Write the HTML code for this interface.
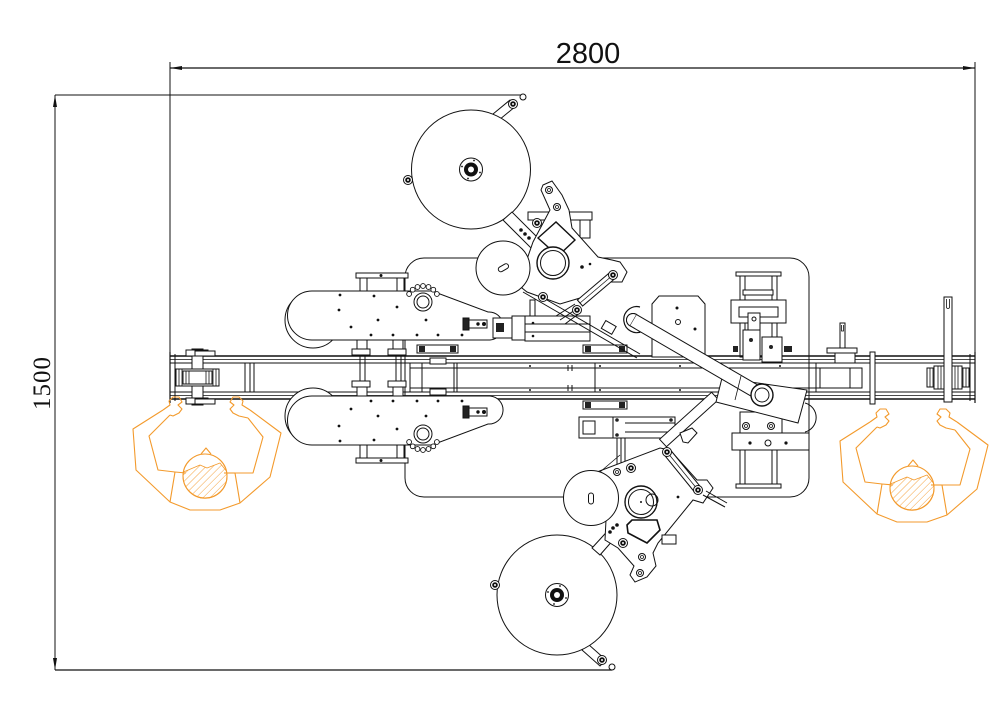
<!DOCTYPE html>
<html><head><meta charset="utf-8"><style>
html,body{margin:0;padding:0;background:#fff;}
svg{display:block;}
</style></head><body>
<svg width="1000" height="714" viewBox="0 0 1000 714" xmlns="http://www.w3.org/2000/svg">
<defs>
<pattern id="hatch" patternUnits="userSpaceOnUse" width="5" height="5" patternTransform="rotate(45)">
<line x1="0" y1="0" x2="0" y2="5" stroke="#f39a2c" stroke-width="0.9"/>
</pattern>
<g id="brg"><circle r="4.5" fill="#fff" stroke="#111" stroke-width="1"/><circle r="2.8" fill="#111"/><circle r="1" fill="#fff"/></g>
<g id="ob"><circle r="3.5" fill="#fff" stroke="#111" stroke-width="1"/><circle r="1.5" fill="none" stroke="#111" stroke-width="0.8"/></g>
<g id="hub"><circle r="11.5" fill="#fff" stroke="#111" stroke-width="1"/><circle r="7" fill="#111"/><circle r="3" fill="#fff"/><circle cx="-9" cy="-3" r="0.9" fill="#111"/><circle cx="9" cy="3" r="0.9" fill="#111"/><circle cx="3" cy="-9" r="0.9" fill="#111"/><circle cx="-3" cy="9" r="0.9" fill="#111"/></g>

<g id="conv" stroke="#111" stroke-width="1">
 <circle cx="313" cy="320" r="28" fill="#fff"/>
 <path d="M312 291 L432 291 L488 312 A14 14 0 0 1 490 340 L312 340 A24.5 24.5 0 0 1 312 291 Z" fill="#fff"/>
 <g fill="#fff" stroke-width="0.9">
  <circle cx="409.1" cy="294" r="2.4"/><circle cx="412.7" cy="289.7" r="2.4"/><circle cx="417.5" cy="287" r="2.4"/>
  <circle cx="423" cy="286" r="2.4"/><circle cx="428.5" cy="287" r="2.4"/><circle cx="433.3" cy="289.7" r="2.4"/>
  <circle cx="436.9" cy="294" r="2.4"/>
 </g>
 <circle cx="423" cy="302" r="9" fill="#fff"/>
 <circle cx="423" cy="302" r="6" fill="none"/>
 <rect x="463" y="318" width="6" height="12" fill="#222"/>
 <rect x="469" y="320" width="18" height="8" fill="#fff"/>
 <circle cx="478" cy="324" r="1.2" fill="#111"/><circle cx="484" cy="324" r="1.5" fill="#111"/>
 <g fill="#111" stroke="none">
  <circle cx="340" cy="295" r="1.4"/><circle cx="374" cy="296" r="1.4"/><circle cx="339" cy="310" r="1.4"/>
  <circle cx="397" cy="307" r="1.4"/><circle cx="378" cy="320" r="1.4"/><circle cx="426" cy="320" r="1.4"/>
  <circle cx="351" cy="327" r="1.4"/><circle cx="371" cy="335" r="1.4"/><circle cx="393" cy="335" r="1.4"/>
  <circle cx="417" cy="335" r="1.4"/><circle cx="438" cy="335" r="1.4"/><circle cx="462" cy="335" r="1.4"/>
 </g>
 <rect x="356" y="273" width="52" height="5" fill="#fff"/>
 <rect x="360" y="278" width="44" height="13" fill="#fff"/>
 <line x1="367" y1="278" x2="367" y2="291"/><line x1="397" y1="278" x2="397" y2="291"/>
 <circle cx="381" cy="275.5" r="1" fill="#111"/>
 <rect x="357" y="340" width="10" height="9" fill="#fff"/>
 <rect x="393" y="340" width="10" height="9" fill="#fff"/>
 <rect x="352" y="349" width="18" height="6" fill="#fff"/>
 <rect x="388" y="349" width="18" height="6" fill="#fff"/>
</g>

<g id="person" fill="none" stroke="#f39a2c" stroke-width="1.1" stroke-linejoin="round">
 <polyline points="43,70 13,89 16,130 50,162 70,170 100,170 120,163 150,137 161,93 130,70"/>
 <polyline points="43,70 50,65 49,61 53,57 59,57 62,62 58,65 62,69 59,73 53,76 50,75"/>
 <polyline points="130,70 122,65 123,61 119,57 113,57 110,62 114,65 110,69 113,73 119,76 128,78"/>
 <polyline points="50,75 29,96 38,130 55,132"/>
 <polyline points="128,78 143,97 133,133 115,133"/>
 <line x1="55" y1="132" x2="50" y2="162"/>
 <line x1="115" y1="133" x2="120" y2="163"/>
 <line x1="55" y1="132" x2="66" y2="133"/>
 <line x1="104" y1="133" x2="115" y2="133"/>
 <circle cx="85" cy="136" r="22"/>
 <polyline points="81,114 86,108 91,114"/>
 <path d="M63.5,132 L80,125 L87,128 L100,123 L106.4,131 A22 22 0 1 1 63.5,132 Z" fill="url(#hatch)" stroke-width="0.8"/>
</g>
</defs>

<rect x="0" y="0" width="1000" height="714" fill="#fff"/>

<!-- Dimensions -->
<g stroke="#111" stroke-width="1" fill="none">
 <line x1="170" y1="68" x2="975" y2="68" stroke-width="1.2"/>
 <line x1="170" y1="62" x2="170" y2="356"/>
 <line x1="975" y1="62" x2="975" y2="356"/>
 <line x1="55" y1="95" x2="55" y2="670"/>
 <line x1="55" y1="95" x2="525" y2="95"/>
 <line x1="55" y1="670" x2="612" y2="670" stroke-width="1.2"/>
</g>
<polygon points="170,68 182,66 182,70" fill="#111"/>
<polygon points="975,68 963,66 963,70" fill="#111"/>
<polygon points="55,95 53,107 57,107" fill="#111"/>
<polygon points="55,670 53,658 57,658" fill="#111"/>
<text x="588" y="63" font-family="Liberation Sans, sans-serif" font-size="29" text-anchor="middle" fill="#111">2800</text>
<text transform="translate(50,383) rotate(-90)" font-family="Liberation Serif, serif" font-size="25" text-anchor="middle" letter-spacing="1" fill="#111">1500</text>

<!-- Big panel -->
<rect x="405" y="258" width="404" height="239" rx="19" fill="#fff" stroke="#111" stroke-width="1"/>

<!-- Frame -->
<g stroke="#111" fill="none">
 <line x1="170" y1="356" x2="975" y2="356" stroke-width="1.6"/>
 <line x1="170" y1="359.5" x2="975" y2="359.5" stroke-width="0.7"/>
 <line x1="170" y1="363" x2="975" y2="363" stroke-width="1"/>
 <line x1="170" y1="392" x2="975" y2="392" stroke-width="1"/>
 <line x1="170" y1="395.5" x2="975" y2="395.5" stroke-width="0.7"/>
 <line x1="170" y1="399" x2="975" y2="399" stroke-width="1.6"/>
 <line x1="410" y1="368" x2="862" y2="368" stroke-width="1"/>
 <line x1="410" y1="388" x2="862" y2="388" stroke-width="1"/>
 <line x1="170" y1="352" x2="170" y2="403" stroke-width="1.2"/>
 <line x1="175" y1="354" x2="175" y2="401"/>
 <line x1="970" y1="354" x2="970" y2="401"/>
 <line x1="975" y1="352" x2="975" y2="403" stroke-width="1.2"/>
 <line x1="245" y1="363" x2="245" y2="392"/><line x1="250" y1="363" x2="250" y2="392"/><line x1="254" y1="363" x2="254" y2="392"/>
 <line x1="360" y1="356" x2="360" y2="399"/><line x1="365" y1="356" x2="365" y2="399"/>
 <line x1="396" y1="356" x2="396" y2="399"/><line x1="401" y1="356" x2="401" y2="399"/>
 <line x1="410" y1="363" x2="410" y2="392"/><line x1="422" y1="363" x2="422" y2="392"/>
 <line x1="454" y1="363" x2="454" y2="392"/><line x1="457" y1="363" x2="457" y2="392"/>
 <rect x="430" y="358" width="16" height="6" fill="#fff"/>
 <rect x="430" y="389" width="16" height="6" fill="#fff"/>
 <line x1="568" y1="365" x2="568" y2="371"/><line x1="572" y1="365" x2="572" y2="371"/>
 <line x1="568" y1="385" x2="568" y2="391"/><line x1="572" y1="385" x2="572" y2="391"/>
 <line x1="595" y1="363" x2="595" y2="392"/>
 <line x1="816" y1="363" x2="816" y2="392"/>
 <rect x="820" y="368" width="42" height="20" fill="#fff"/>
 <line x1="850" y1="368" x2="850" y2="388"/>
 <rect x="870" y="352" width="5" height="52" fill="#fff"/>
</g>
<g fill="#111">
 <circle cx="530" cy="366" r="1"/><circle cx="530" cy="390" r="1"/>
 <circle cx="600" cy="366" r="1"/><circle cx="600" cy="390" r="1"/>
 <circle cx="680" cy="366" r="1"/><circle cx="680" cy="390" r="1"/>
 <circle cx="780" cy="366" r="1"/><circle cx="780" cy="390" r="1"/>
</g>
<!-- left end gear/shaft -->
<g stroke="#111" stroke-width="1" fill="#fff">
 <rect x="192" y="349" width="11" height="56"/>
 <rect x="186" y="350" width="22" height="6"/>
 <rect x="186" y="398" width="22" height="6"/>
 <rect x="176" y="369" width="43" height="17"/>
 <rect x="183" y="371" width="29" height="13"/>
</g>
<g stroke="#111" stroke-width="0.8">
 <line x1="179" y1="369" x2="179" y2="386"/><line x1="182" y1="369" x2="182" y2="386"/>
 <line x1="186" y1="371" x2="186" y2="384"/><line x1="189" y1="371" x2="189" y2="384"/>
 <line x1="206" y1="371" x2="206" y2="384"/><line x1="209" y1="371" x2="209" y2="384"/>
 <line x1="213" y1="369" x2="213" y2="386"/><line x1="216" y1="369" x2="216" y2="386"/>
</g>
<!-- right end gear/shaft -->
<g stroke="#111" stroke-width="1" fill="#fff">
 <rect x="927" y="368" width="42" height="19"/>
 <rect x="934" y="366" width="28" height="23"/>
 <rect x="944" y="297" width="8" height="105"/>
</g>
<g stroke="#111" stroke-width="0.8" fill="none">
 <line x1="930" y1="368" x2="930" y2="387"/><line x1="933" y1="368" x2="933" y2="387"/>
 <line x1="938" y1="366" x2="938" y2="389"/><line x1="941" y1="366" x2="941" y2="389"/>
 <line x1="955" y1="366" x2="955" y2="389"/><line x1="958" y1="366" x2="958" y2="389"/>
 <line x1="963" y1="368" x2="963" y2="387"/><line x1="966" y1="368" x2="966" y2="387"/>
 <path d="M946.5 299 L946.5 307 A1.5 1.5 0 0 0 949.5 307 L949.5 299"/>
</g>
<!-- center pole -->
<g stroke="#111" stroke-width="1" fill="#fff">
 <rect x="840" y="323" width="5" height="25"/>
 <rect x="827" y="348" width="30" height="5"/>
 <rect x="835" y="353" width="20" height="10"/>
</g>
<path d="M841.5 325 L841.5 331 L843.5 331 L843.5 325" fill="none" stroke="#111" stroke-width="0.8"/>

<!-- small brackets on rails -->
<g stroke="#111" stroke-width="1" fill="#fff">
 <rect x="417" y="345" width="41" height="8"/>
 <rect x="583" y="345" width="44" height="8"/>
 <rect x="583" y="401" width="44" height="8"/>
 <rect x="195" y="351" width="20" height="5"/>
 <rect x="195" y="399" width="20" height="5"/>
</g>
<g fill="#222">
 <rect x="419" y="346" width="6" height="6"/><rect x="450" y="346" width="6" height="6"/>
 <rect x="585" y="346" width="6" height="6"/><rect x="619" y="346" width="6" height="6"/>
 <rect x="585" y="402" width="6" height="6"/><rect x="619" y="402" width="6" height="6"/>
</g>

<!-- right upper slide frame -->
<g stroke="#111" stroke-width="1" fill="#fff">
 <rect x="740" y="276" width="37" height="81" fill="none"/>
 <line x1="745" y1="276" x2="745" y2="357"/><line x1="772" y1="276" x2="772" y2="357"/>
 <rect x="736" y="272" width="45" height="4"/>
 <rect x="743" y="290" width="30" height="5"/>
 <rect x="731" y="300" width="55" height="23"/>
 <rect x="739" y="307" width="39" height="10"/>
 <rect x="748" y="313" width="12" height="17"/>
 <rect x="743" y="330" width="17" height="30"/>
 <rect x="762" y="337" width="20" height="25"/>
 <circle cx="754" cy="319" r="2" fill="none"/>
</g>
<g fill="#222">
 <rect x="733" y="346" width="5" height="6"/><rect x="784" y="346" width="8" height="6"/>
 <circle cx="751" cy="340" r="2"/><circle cx="771" cy="347" r="2"/>
</g>
<!-- right lower slide frame -->
<g stroke="#111" stroke-width="1" fill="#fff">
 <rect x="740" y="450" width="37" height="34" fill="none"/>
 <line x1="745" y1="450" x2="745" y2="484"/><line x1="772" y1="450" x2="772" y2="484"/>
 <rect x="736" y="484" width="45" height="4"/>
 <rect x="732" y="433" width="77" height="17"/>
 <rect x="740" y="412" width="42" height="21"/>
 <circle cx="768" cy="443" r="3" fill="#fff"/>
 <path d="M805 403 A15 15 0 0 1 805 432" fill="none"/>
</g>
<g fill="#111"><circle cx="750" cy="443" r="1.6"/><circle cx="786" cy="443" r="1.6"/></g>
<use href="#ob" x="746" y="426"/><use href="#ob" x="771" y="426"/>

<!-- center block -->
<path d="M652 304 L659 296 L698 296 L705 304 L705 357 L652 357 Z" fill="#fff" stroke="#111" stroke-width="1"/>
<circle cx="677" cy="308" r="1.5" fill="#111"/>
<circle cx="678" cy="322" r="2.5" fill="#fff" stroke="#111"/>
<circle cx="695" cy="329" r="1.5" fill="#111"/>

<!-- lower-left units under frame -->
<g stroke="#111" stroke-width="1" fill="#fff">
 <line x1="617" y1="438" x2="617" y2="492"/><line x1="621" y1="438" x2="621" y2="492"/><line x1="625" y1="438" x2="625" y2="492"/>
 <rect x="579" y="417" width="34" height="21"/>
 <rect x="613" y="417" width="62" height="21"/>
 <line x1="625" y1="423" x2="675" y2="423"/><line x1="625" y1="432" x2="675" y2="432"/>
 <rect x="583" y="421" width="12" height="13"/>
</g>
<g fill="#222"><circle cx="617" cy="420" r="1.8"/><circle cx="671" cy="420" r="1.8"/><circle cx="617" cy="435" r="1.8"/><circle cx="671" cy="435" r="1.8"/></g>

<!-- conveyors -->
<use href="#conv"/>
<use href="#conv" transform="translate(0,736) scale(1,-1)"/>

<!-- TOP LABELER -->
<g stroke="#111" stroke-width="1">
 <!-- mechanism under plate -->
 <rect x="493" y="318" width="19" height="20" fill="#fff"/>
 <rect x="512" y="316" width="13" height="24" fill="#fff"/>
 <rect x="525" y="316" width="65" height="25" fill="#fff"/>
 <line x1="525" y1="324" x2="590" y2="324"/><line x1="525" y1="332" x2="590" y2="332"/>
 <rect x="530" y="300" width="5" height="16" fill="#fff"/>
 <!-- peel lines -->
 <line x1="523" y1="292" x2="637" y2="358"/>
 <line x1="528" y1="289" x2="640" y2="354"/>
 <rect x="603" y="323" width="12" height="9" fill="#fff" transform="rotate(30 609 327)"/>
 <!-- arm to top roller -->
 <polygon points="493,114 499,120 516,106 510,100" fill="#fff"/>
 <!-- big reel -->
 <circle cx="471" cy="169.5" r="59.5" fill="#fff"/>
 <!-- strap -->
 <polygon points="503,220 512,212 540,240 531,248" fill="#fff"/>
 <!-- top bracket -->
 <rect x="528" y="212" width="64" height="8" fill="#fff"/>
 <rect x="580" y="220" width="10" height="18" fill="#fff"/>
 <!-- plate -->
 <polygon points="543,185 552,181 562,195 569,210 572,228 598,257 612,260 620,262 627,272 622,282 610,282 580,298 560,304 527,292 522,288 525,265 533,242 550,210 541,190" fill="#fff"/>
 <polygon points="538,238 556,222 575,240 558,256" fill="none" stroke-width="1.4"/>
 <circle cx="553" cy="263" r="16" fill="#fff" stroke-width="1.4"/>
 <circle cx="553" cy="263" r="12.5" fill="none"/>
 <!-- second roller -->
 <circle cx="503" cy="268" r="27" fill="#fff"/>
 <rect x="498" y="265.5" width="11" height="5" rx="2.5" fill="#fff" transform="rotate(-30 503 268)"/>
 <!-- cylinder -->
 <polygon points="615.6,278 582.6,306 577.4,300 610.4,272" fill="#fff"/>
 <line x1="613" y1="275" x2="580" y2="303" stroke-width="0.7"/>
 <!-- forks -->
 <line x1="578" y1="308" x2="560" y2="320"/><line x1="575" y1="304" x2="556" y2="316"/><line x1="581" y1="312" x2="565" y2="324"/>
</g>
<use href="#hub" x="471" y="169.5"/>
<use href="#brg" x="513" y="104"/>
<circle cx="523" cy="97" r="3" fill="#fff" stroke="#111"/>
<use href="#brg" x="408" y="180"/>
<use href="#brg" x="537" y="223"/>
<use href="#ob" x="557" y="207"/>
<use href="#brg" x="613" y="275"/>
<use href="#brg" x="577" y="310"/>
<use href="#brg" x="543" y="297"/>
<use href="#ob" x="549" y="190"/>
<g fill="#111"><circle cx="521" cy="230" r="1.8"/><circle cx="525" cy="234" r="1.8"/><circle cx="529" cy="238" r="1.8"/><circle cx="590" cy="264" r="1.3"/><circle cx="582" cy="267" r="1.8"/><circle cx="533" cy="323" r="1.3"/><circle cx="533" cy="336" r="1.3"/></g>
<rect x="496" y="323" width="8" height="9" fill="#222"/>

<!-- BOTTOM LABELER -->
<g stroke="#111" stroke-width="1">
 <!-- arm up-right -->
 <polygon points="666.4,446.7 718.4,399.7 711.6,392.3 659.6,439.3" fill="#fff"/>
 <polygon points="680,433 692,428 697,433 688,443 683,442" fill="#fff"/>
 <!-- bottom arm -->
 <polygon points="582,650 588,644 606,660 600,666" fill="#fff"/>
 <!-- big reel -->
 <circle cx="557" cy="595" r="60" fill="#fff"/>
 <!-- strap -->
 <polygon points="592,548 614,524 621,531 600,555" fill="#fff"/>
 <!-- plate -->
 <polygon points="597,472 660,448 670,450 697,480 707,480 713,488 703,503 693,500 658,543 653,553 656,566 647,577 635,582 630,575 634,566 618,548 605,540 606,520 610,500" fill="#fff"/>
 <polygon points="627,525 632,520 657,520 660,530 647,543 628,533" fill="none" stroke-width="1.6"/>
 <circle cx="641" cy="502" r="16" fill="#fff" stroke-width="1.4"/>
 <circle cx="641" cy="502" r="12.5" fill="none"/>
 <circle cx="652" cy="500" r="6" fill="none"/>
 <!-- second roller -->
 <circle cx="591" cy="498" r="27.5" fill="#fff"/>
 <rect x="588.5" y="493" width="5" height="11" rx="2.5" fill="#fff"/>
 <!-- cylinder -->
 <polygon points="670.1,449.5 701.1,487.5 694.9,492.5 663.9,454.5" fill="#fff"/>
 <line x1="667" y1="452" x2="698" y2="490" stroke-width="0.7"/>
 <!-- forks -->
 <line x1="703" y1="495" x2="725" y2="507"/><line x1="706" y1="491" x2="727" y2="503"/>
 <!-- small bracket right -->
 <rect x="662" y="535" width="14" height="9" fill="#fff"/>
 <line x1="600" y1="472" x2="620" y2="455" stroke-width="0.8"/>
</g>
<use href="#hub" x="557" y="595"/>
<use href="#brg" x="602" y="660"/>
<circle cx="612" cy="667" r="3" fill="#fff" stroke="#111"/>
<use href="#brg" x="495" y="585"/>
<use href="#brg" x="667" y="452"/>
<use href="#brg" x="698" y="490"/>
<use href="#brg" x="631" y="468"/>
<use href="#brg" x="623" y="543"/>
<use href="#ob" x="642" y="557"/>
<use href="#ob" x="640" y="573"/>
<use href="#ob" x="617" y="472"/>
<g fill="#111"><circle cx="610" cy="532" r="1.8"/><circle cx="613" cy="528" r="1.8"/><circle cx="617" cy="525" r="1.8"/><circle cx="678" cy="497" r="1.4"/><circle cx="641" cy="502" r="1"/></g>

<!-- DIAGONAL ARM + BOX -->
<g stroke="#111" stroke-width="1">
 <polygon points="722,378 807,390 798,423 716,402" fill="#fff"/>
 <path d="M640 307 A13 13 0 1 0 643 331" fill="none" stroke-width="1.2"/>
 <circle cx="633" cy="320" r="6.5" fill="#fff"/>
 <polygon points="636.3,314.4 765.3,389.4 758.7,400.6 629.7,325.6" fill="#fff"/>
 <path d="M636.3 314.4 A6.5 6.5 0 0 0 629.7 325.6" fill="#fff"/>
 <line x1="741" y1="376" x2="735" y2="400" stroke-width="0.8"/>
 <circle cx="762" cy="395" r="11" fill="#fff" stroke-width="1.4"/>
 <circle cx="762" cy="395" r="7" fill="none"/>
</g>

<!-- PERSONS -->
<use href="#person" transform="translate(120,340)"/>
<use href="#person" transform="translate(827,352)"/>
</svg>
</body></html>
